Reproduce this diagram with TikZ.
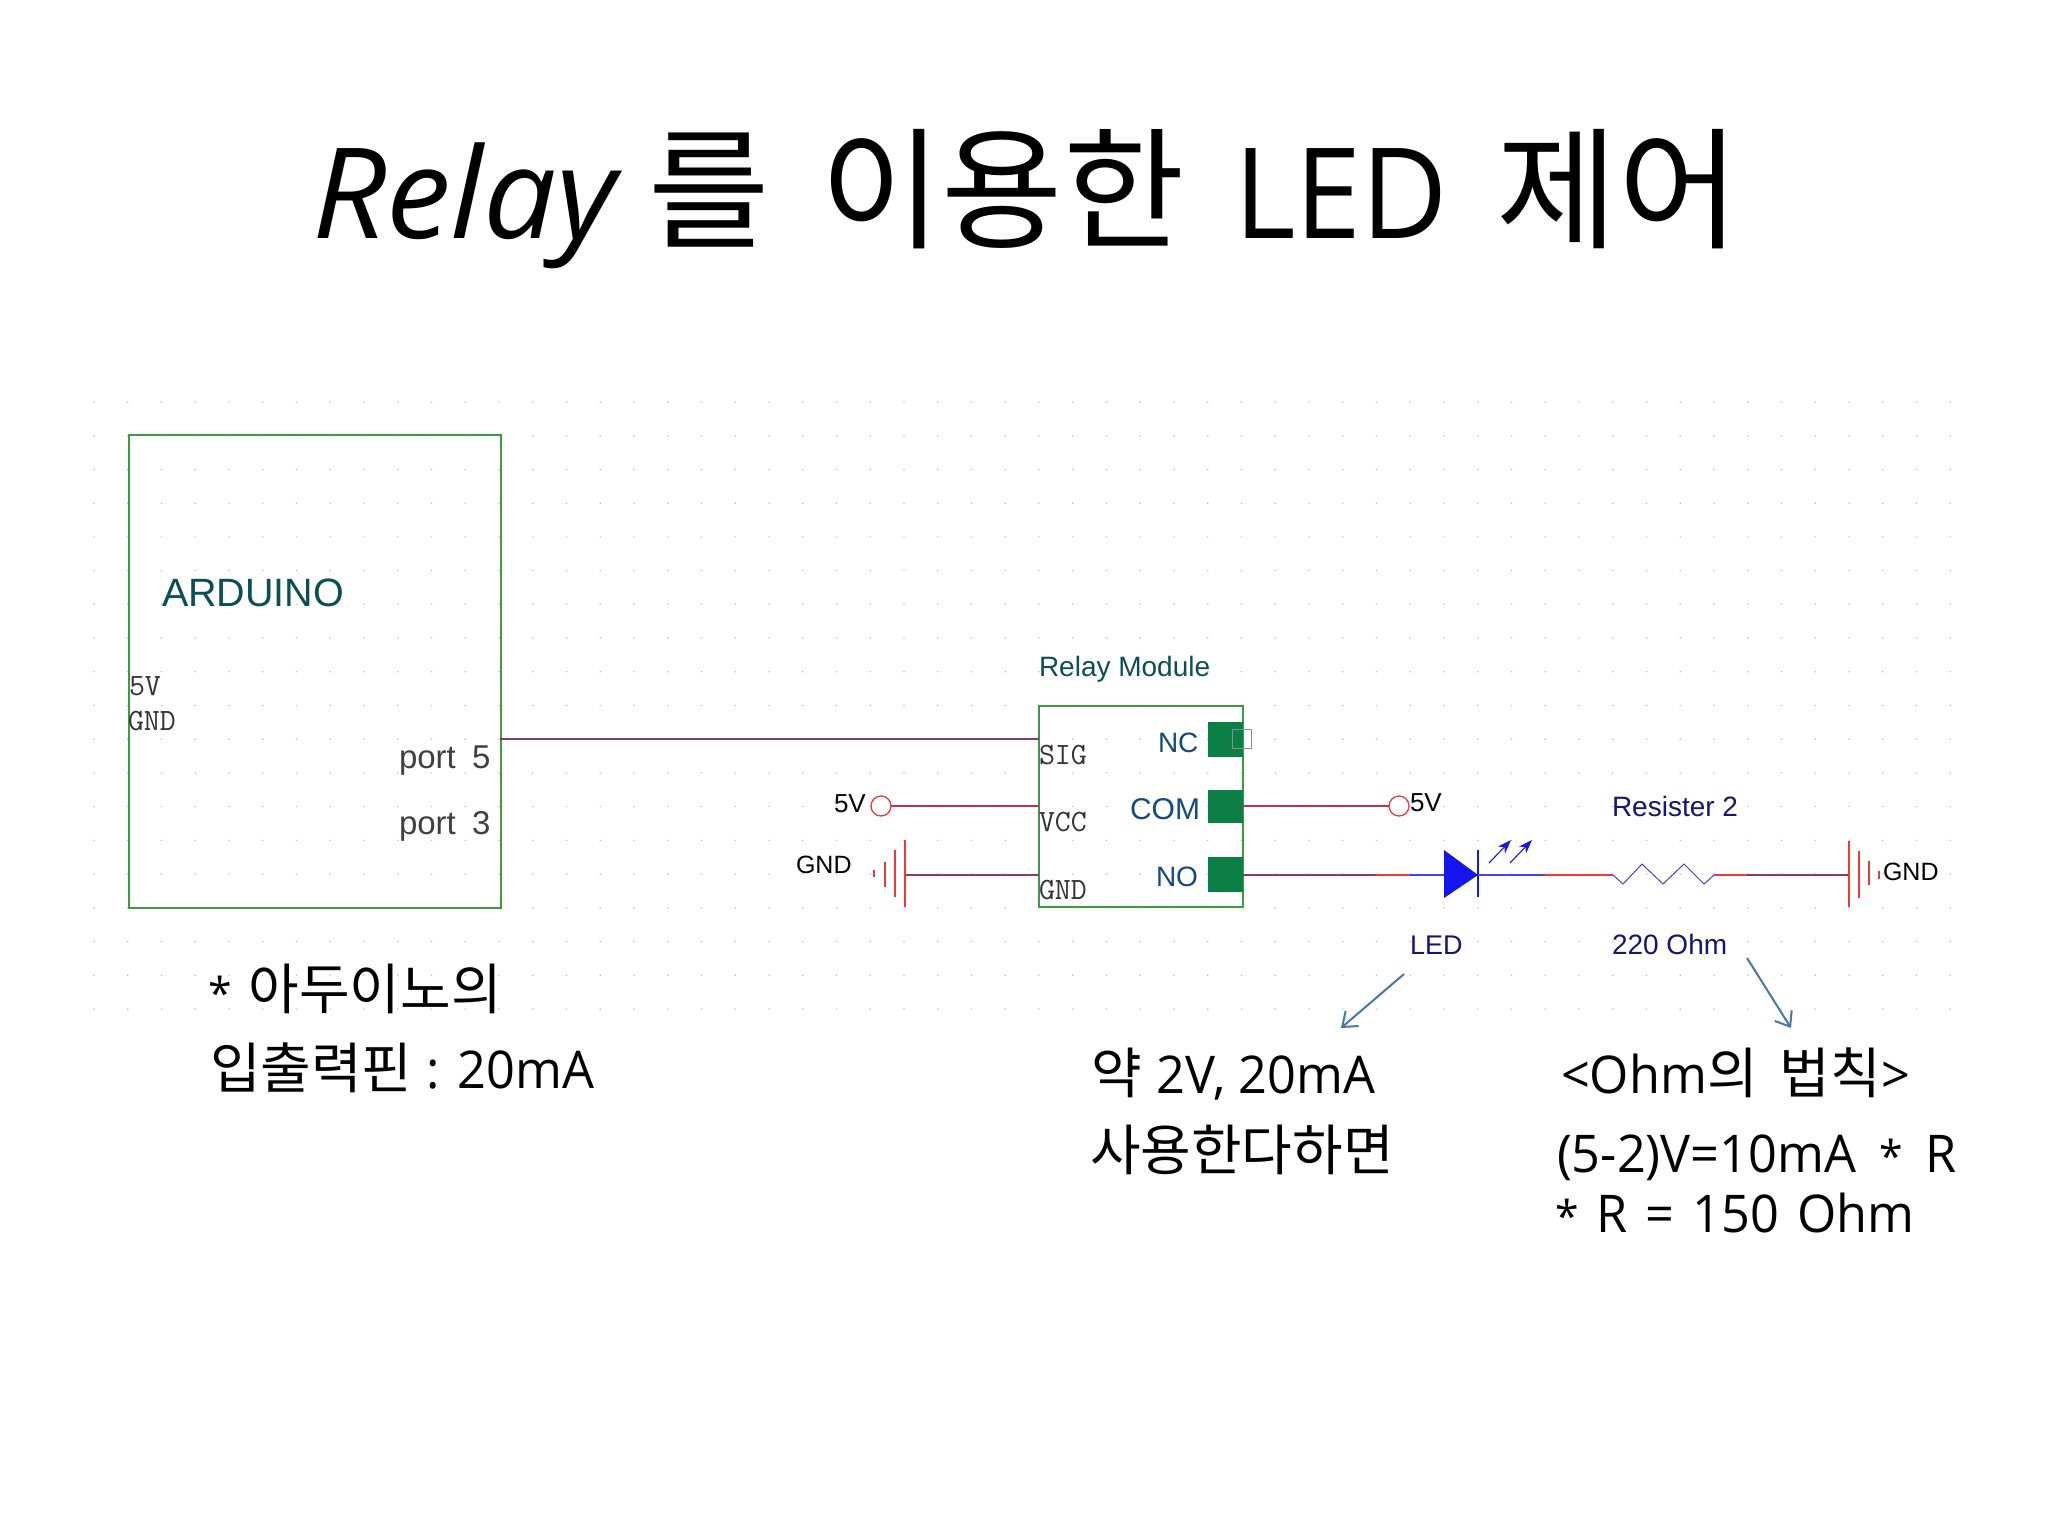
\documentclass[tikz,border=0pt]{standalone}
\usepackage{fontspec}
\usetikzlibrary{arrows.meta}
\setmainfont{Liberation Sans}
\newfontfamily\kr{Noto Sans CJK KR}
\newfontfamily\la[FakeStretch=0.97]{Open Sans}
\newfontfamily\lat[FakeStretch=0.94]{Open Sans}
\newfontfamily\lai[FakeStretch=1.03]{Open Sans}
\definecolor{boxgreen}{HTML}{3F9A45}
\definecolor{padgreen}{HTML}{0B7F45}
\definecolor{teal0}{HTML}{0B4F55}
\definecolor{navy0}{HTML}{134A85}
\definecolor{navy1}{HTML}{14147A}
\definecolor{wirep}{HTML}{8A3A66}
\definecolor{wirer}{HTML}{C2305A}
\definecolor{red0}{HTML}{EE3A3F}
\definecolor{blue0}{HTML}{1515F0}
\definecolor{note}{HTML}{4A76A8}
\newcommand{\fs}[1]{\fontsize{#1}{#1}\selectfont}
\newcommand{\kb}{\kr\fs{55}}
\newcommand{\lb}{\la\fs{52}}
\tikzset{
  lbl/.style={anchor=base west,inner sep=0pt,outer sep=0pt},
  sch/.style={lbl,font=\fs{28}},
  mono/.style={lbl,font=\ttfamily\fs{31},text=black!80},
  body/.style={lbl,font=\la\fs{52}},
  blk/.style={draw=boxgreen,line width=2pt,anchor=north west,inner sep=0pt,outer sep=0pt},
  pad/.style={fill=padgreen,anchor=north west,inner sep=0pt,outer sep=0pt},
  term/.style={circle,draw=red0,line width=1.3pt,minimum size=20pt,inner sep=0pt,outer sep=0pt},
  wire/.style={line width=1.5pt,color=wirep},
  wirec/.style={line width=1.5pt,color=wirer},
  gnd/.style={line width=1.4pt,color=red0},
  callout/.style={line width=2pt,color=note,-{Straight Barb[length=13pt,width=20pt,line width=2pt]}},
  photon/.style={line width=1.1pt,color=blue0,-{Stealth[length=14pt,width=10pt]}}
}
\begin{document}
\begin{tikzpicture}[x=1pt,y=-1pt]
\useasboundingbox (0,0) rectangle (2048,1536);
\fill[white] (0,0) rectangle (2048,1536);
% grid dots
\fill[black!25] foreach \i in {0,...,55} { foreach \j in {0,...,18} {
  ({94+33.75*\i-0.6},{402+33.72*\j-0.6}) rectangle ++(1.2,1.2) } };
% title
\node[lbl] (title) at (312,238) {\fs{126}\lai\itshape Relay\upshape\kr\fs{132}\hspace{2pt} 를 \hspace{21pt}이용한 \hspace{20pt}\lat\fs{126}LED \hspace{18pt}\kr\fs{132}제어};
% blocks
\node[blk,minimum width=372pt,minimum height=473pt] (ard) at (128.5,435) {};
\node[blk,minimum width=204pt,minimum height=201pt] (rly) at (1039,706) {};
\node[pad,minimum width=35pt,minimum height=35pt] (nc) at (1208,722) {};
\node[pad,minimum width=35pt,minimum height=33pt] (com) at (1208,790) {};
\node[pad,minimum width=35pt,minimum height=35pt] (no) at (1208,857) {};
\node[draw=black!45,line width=1pt,anchor=north west,minimum size=19pt,inner sep=0pt] (mark) at (1232,729) {};
% arduino text
\node[lbl,font=\fs{39.5},text=teal0] (ardt) at (162,606) {ARDUINO};
\node[mono] (a5v) at (129,695) {5V};
\node[mono] (agnd) at (128,730) {GND};
\node[lbl,font=\fs{33},text=black!75] (p5) at (399,768) {port\hspace{7pt} 5};
\node[lbl,font=\fs{33},text=black!75] (p3) at (399,834) {port\hspace{7pt} 3};
% relay text
\node[lbl,font=\fs{28},text=teal0] (rlyt) at (1039,676) {Relay Module};
\node[mono] (sig) at (1039,764) {SIG};
\node[mono] (vcc) at (1039,831) {VCC};
\node[mono] (rgnd) at (1039,899) {GND};
\node[lbl,font=\fs{28},text=navy0] (nct) at (1158,752) {NC};
\node[lbl,font=\fs{30},text=navy0] (comt) at (1130,819) {COM};
\node[lbl,font=\fs{28},text=navy0] (not) at (1156,886) {NO};
% named pins
\coordinate (sigL) at (1039,739);
\coordinate (vccL) at (1039,806);
\coordinate (gndL) at (1039,875);
\coordinate (ardR) at (500,739);
\coordinate (comR) at (1243,806);
\coordinate (noR) at (1243,875);
% wires left
\draw[wire] (ardR) -- (sigL);
\node[term] (t5l) at (881,806) {};
\node[lbl,font=\fs{26}] (t5lt) at (834,812) {5V};
\draw[wirec] (t5l) -- (vccL);
\coordinate (g1) at (905,875);
\draw[wire] (g1) -- (gndL);
\draw[gnd] (905,840) -- (905,907) (895,850) -- (895,897) (885,862) -- (885,887);
\draw[gnd] (874,870) -- (874,877);
\node[lbl,font=\fs{25}] (g1t) at (796,873) {GND};
% right: 5V
\node[term] (t5r) at (1399,806) {};
\node[lbl,font=\fs{26}] (t5rt) at (1410,811) {5V};
\draw[wirec] (comR) -- (t5r);
% LED branch
\coordinate (w1) at (1376,875);
\coordinate (w2) at (1410,875);
\coordinate (da) at (1444,875);
\coordinate (dk) at (1478,875);
\coordinate (w3) at (1545,875);
\coordinate (ra) at (1613,875);
\coordinate (rb) at (1714,875);
\coordinate (w4) at (1747,875);
\coordinate (g2) at (1849,875);
\draw[wire] (noR) -- (w1);
\draw[line width=1.6pt,red0] (w1) -- (w2);
\draw[line width=1.6pt,blue0!80!white] (w2) -- (da);
\fill[blue0] (1444,850) -- (dk) -- (1444,898) -- cycle;
\draw[line width=1.2pt,blue0] (1478,850) -- (1478,897);
\draw[line width=1.6pt,blue0!80!white] (dk) -- (w3);
\draw[line width=1.6pt,red0] (w3) -- (ra);
\draw[line width=1pt,color=blue0!55!gray] (ra) -- (1623,884) -- (1642,864) -- (1663,884) -- (1684,864) -- (1704,884) -- (rb);
\draw[line width=1.6pt,red0] (rb) -- (w4);
\draw[wire] (w4) -- (g2);
\draw[gnd] (1849,841) -- (1849,907) (1859,851) -- (1859,898) (1869,861) -- (1869,885);
\draw[gnd] (1879,871) -- (1879,879);
\node[lbl,font=\fs{25}] (g2t) at (1883,880) {GND};
\draw[photon] (1489,863) -- (1511,840);
\draw[photon] (1510,863) -- (1532,840);
\node[sch,text=navy1] (rt) at (1612,816) {Resister 2};
\node[lbl,font=\fs{27},text=navy1] (ledt) at (1410,954) {LED};
\node[sch,text=navy1] (ohmt) at (1612,954) {220 Ohm};
% notes
\node[body] (n1) at (208,1009) {\fs{44}* \hspace{6pt}\kb 아두이노의};
\node[body] (n2) at (210,1088) {\kb 입출력핀 \hspace{2pt}\lb :\hspace{0pt} 20mA};
\node[body] (n3) at (1091,1093) {\kb 약 \hspace{3pt}\lb 2V, 20mA};
\node[body] (n4) at (1090,1170) {\kb 사용한다하면};
\node[body] (n5) at (1561,1093) {<Ohm\kb 의 \hspace{10pt}법칙\lb >};
\node[body] (n6) at (1557,1172) {(5-2)V=10mA\hspace{10pt} \fs{44}*\lb\hspace{10pt} R};
\node[body] (n7) at (1555,1232) {\fs{44}*\lb\hspace{5pt} R\hspace{5pt} =\hspace{5pt} 150\hspace{5pt} Ohm};
\coordinate (c1a) at (1404,974);
\coordinate (c1b) at (1341,1028);
\coordinate (c2a) at (1747,958);
\coordinate (c2b) at (1791,1028);
\draw[callout] (c1a) -- (c1b);
\draw[callout] (c2a) -- (c2b);
\end{tikzpicture}
\end{document}
